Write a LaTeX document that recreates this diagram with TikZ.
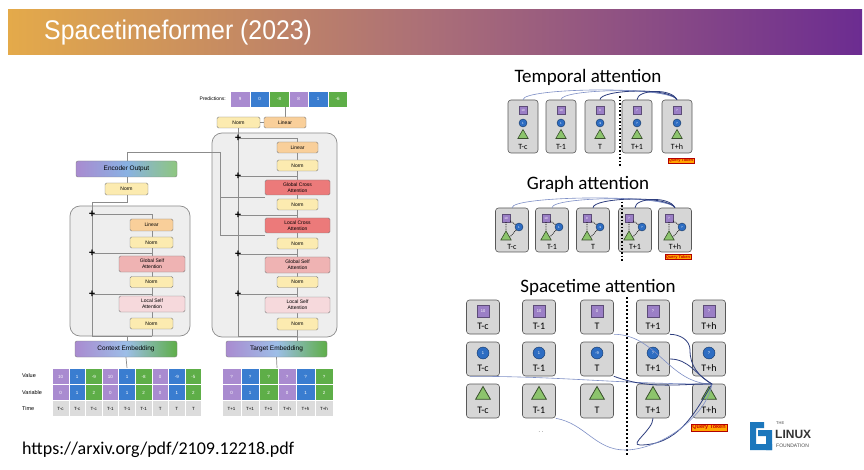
\documentclass[tikz,border=0pt]{standalone}
\usepackage{fontspec}
\setmainfont{Liberation Sans}
\newfontfamily\carlito{Carlito}
\usetikzlibrary{shapes.geometric}
\definecolor{pu}{HTML}{A98BD0}
\definecolor{bl}{HTML}{3A7DD0}
\definecolor{gr}{HTML}{5EAE48}
\definecolor{tg}{HTML}{DCDCDC}
\definecolor{sqc}{HTML}{9B7FC6}
\definecolor{cic}{HTML}{2E6DC2}
\definecolor{trc}{HTML}{8CC46C}
\definecolor{cardc}{HTML}{D6D6D6}
\definecolor{normc}{HTML}{FCEBB0}
\definecolor{linc}{HTML}{F9CF9A}
\definecolor{gca}{HTML}{EC7A7A}
\definecolor{gsa}{HTML}{EFB3B3}
\definecolor{lsa}{HTML}{F6D9DC}
\definecolor{blk}{HTML}{EEEEEE}
\definecolor{lf}{HTML}{1C77BC}
\definecolor{arcd}{HTML}{2E3E7E}
\definecolor{arcl}{HTML}{7E8FC6}
\tikzset{
 x=1pt,y=-1pt,
 cell/.style={minimum width=#1,minimum height=16,inner sep=0,draw=white,line width=0.6pt,font=\fontsize{4.5}{5}\selectfont,text=white},
 box/.style={draw=black!50,rounded corners=1.5,inner sep=0,font=\fontsize{5}{6}\selectfont,align=center},
 blockc/.style={draw=black!45,fill=blk,rounded corners=10,line width=0.7pt},
 wire/.style={draw=black!45,line width=0.7pt},
 plus/.style={font=\bfseries\fontsize{11}{11}\selectfont,inner sep=0},
 card/.style={draw=black!65,fill=cardc,rounded corners=3,line width=0.6pt,inner sep=0},
 sq/.style={fill=sqc,draw=sqc!60!black,minimum size=8,inner sep=0,font=\fontsize{3}{3}\selectfont,text=white},
 ci/.style={circle,fill=cic,draw=cic!50!black,minimum size=8,inner sep=0,font=\fontsize{3}{3}\selectfont,text=white},
 tri/.style={regular polygon,regular polygon sides=3,fill=trc,draw=trc!40!black,minimum size=12,inner sep=0,line width=0.6pt},
 bsq/.style={sq,minimum size=12,font=\fontsize{4}{4}\selectfont},
 bci/.style={ci,minimum size=12,font=\fontsize{4}{4}\selectfont},
 btri/.style={tri,minimum size=17,line width=0.8pt},
 lab/.style={font=\carlito\fontsize{8}{8}\selectfont,inner sep=0},
 qt/.style={fill=orange!70!yellow,draw=red!70!black,inner sep=0.8,font=\bfseries\fontsize{4}{4}\selectfont,text=red!80!black,line width=0.4pt},
 arcA/.style={draw=arcd,line width=0.8pt},
 arcB/.style={draw=arcl,line width=0.6pt},
 title/.style={font=\carlito\fontsize{19}{19}\selectfont,inner sep=0},
 pics/tcard/.style n args={3}{code={
   \node[card,minimum width=30,minimum height=53] (-c) at (0,0) {};
   \node[sq] (-s) at (0,-16.5) {#1};
   \node[ci] (-o) at (0,-3.5) {#2};
   \node[tri] (-t) at (0,9) {};
   \node[lab] (-l) at (0,20.5) {#3};}},
 pics/gcard/.style n args={3}{code={
   \node[card,minimum width=33,minimum height=44] (-c) at (0,0) {};
   \node[sq] (-s) at (-6,-12) {#1};
   \node[ci] (-o) at (7,-3) {#2};
   \node[tri] (-t) at (-6,7) {};
   \node[lab] (-l) at (0,17) {#3};
   \draw[densely dotted,line width=0.8pt] (-s) -- (-o) (-o) -- (-t.east) (-s) -- (-t);}},
 pics/scard/.style n args={3}{code={
   \node[card,minimum width=33,minimum height=34] (-c) at (0,0) {};
   \node[#1] (-g) at (0,-6) {#2};
   \node[lab,font=\carlito\fontsize{10}{10}\selectfont] (-l) at (0,9) {#3};}},
}
\begin{document}
\begin{tikzpicture}
\useasboundingbox (0,0) rectangle (864,470);
\fill[white] (0,0) rectangle (864,470);
% title bar
\shade[left color={rgb,255:red,228;green,170;blue,74},right color={rgb,255:red,108;green,44;blue,145},middle color={rgb,255:red,170;green,110;blue,120}] (8,10) rectangle (862,55);
\node[font=\fontsize{27}{27}\selectfont,inner sep=0,text=white,anchor=west,xscale=0.92] (ttl) at (44,33) {Spacetimeformer (2023)};
\node[anchor=west,inner sep=0,font=\carlito\fontsize{18}{18}\selectfont] (url) at (22,450) {https://arxiv.org/pdf/2109.12218.pdf};

% ===== left architecture =====
\node[anchor=east,inner sep=0,font=\fontsize{5}{5}\selectfont] (predl) at (226,99) {Predictions:};
\foreach \v [count=\i] in {9,0,-8,8,1,-6}{
  \pgfmathtruncatemacro\m{mod(\i-1,3)}
  \ifcase\m\def\cc{pu}\or\def\cc{bl}\or\def\cc{gr}\fi
  \node[cell=19.5,fill=\cc,anchor=west] (p\i) at ({230+(\i-1)*19.5},99) {\v};
}
% blocks
\draw[blockc] (212,133) rectangle (337,337);
\draw[blockc] (70,206) rectangle (190,336);
% decoder wires
\draw[wire] (238,336) -- (238,128);
\draw[wire] (297.5,341) -- (297.5,138) -- (238,138);
\foreach \y in {176,215,254,294}{\draw[wire] (238,\y) -- (297.5,\y);}
\draw[wire] (238,336) -- (297.5,336);
\draw[wire] (285,117) -- (285,107);
% encoder wires
\draw[wire] (92,336) -- (92,202) -- (127,202) -- (127,195);
\draw[wire] (152,336) -- (152,214) -- (92,214);
\foreach \y in {253,294}{\draw[wire] (92,\y) -- (152,\y);}
\draw[wire] (127,341) -- (127,336) (92,336) -- (152,336);
\draw[wire] (127,177) -- (127,183);
% cross connection
\draw[wire] (127,161) -- (127,152) -- (220,152) -- (220,235) -- (265,235);
\draw[wire] (220,197) -- (265,197);
\foreach \y in {138,176,215,254,294}{\node[plus] (dp\y) at (238,\y) {+};}
\foreach \y in {214,253,294}{\node[plus] (ep\y) at (92,\y) {+};}
% decoder boxes
\node[box,fill=normc,minimum width=43,minimum height=11] (dn0) at (238.5,122.5) {Norm};
\node[box,fill=linc,minimum width=42,minimum height=11] (dl0) at (285,122.5) {Linear};
\draw[wire] (dn0) -- (dl0);
\node[box,fill=linc,minimum width=41,minimum height=11] (dl1) at (297.5,147.5) {Linear};
\node[box,fill=normc,minimum width=41,minimum height=11] (dn1) at (297.5,165.5) {Norm};
\node[box,fill=gca,minimum width=65,minimum height=15] (dgc) at (297.5,187.5) {Global Cross\\Attention};
\node[box,fill=normc,minimum width=41,minimum height=11] (dn2) at (297.5,204.5) {Norm};
\node[box,fill=gca,minimum width=65,minimum height=15] (dlc) at (297.5,225.5) {Local Cross\\Attention};
\node[box,fill=normc,minimum width=41,minimum height=11] (dn3) at (297.5,243.5) {Norm};
\node[box,fill=gsa,minimum width=65,minimum height=16] (dgs) at (297.5,265) {Global Self\\Attention};
\node[box,fill=normc,minimum width=41,minimum height=11] (dn4) at (297.5,282) {Norm};
\node[box,fill=lsa,minimum width=65,minimum height=16] (dls) at (297.5,305) {Local Self\\Attention};
\node[box,fill=normc,minimum width=41,minimum height=12] (dn5) at (297.5,324) {Norm};
\node[box,left color=pu,right color=gr,middle color=bl!50,rounded corners=2,minimum width=101,minimum height=16,font=\fontsize{6.5}{7}\selectfont] (temb) at (276.5,349) {Target Embedding};
% encoder boxes
\node[box,left color=pu,right color=gr!70,middle color=bl!60,rounded corners=2,minimum width=101,minimum height=16,font=\fontsize{6.5}{7}\selectfont] (eout) at (126.5,169) {Encoder Output};
\node[box,fill=normc,minimum width=43,minimum height=12] (en0) at (126.5,189) {Norm};
\node[box,fill=linc,minimum width=43,minimum height=12] (el1) at (151.5,225) {Linear};
\node[box,fill=normc,minimum width=43,minimum height=11] (en1) at (151.5,242.5) {Norm};
\node[box,fill=gsa,minimum width=66,minimum height=16] (egs) at (152,264) {Global Self\\Attention};
\node[box,fill=normc,minimum width=43,minimum height=11] (en2) at (151.5,282) {Norm};
\node[box,fill=lsa,minimum width=66,minimum height=16] (els) at (152,304) {Local Self\\Attention};
\node[box,fill=normc,minimum width=43,minimum height=11] (en3) at (151.5,323.5) {Norm};
\node[box,left color=pu,right color=gr,middle color=bl!50,rounded corners=2,minimum width=102,minimum height=16,font=\fontsize{6.5}{7}\selectfont] (cemb) at (126,349) {Context Embedding};
\draw[wire] (cemb.south) -- (127,368);
\draw[wire] (temb.south) -- (277,368);
% tables
\node[anchor=west,inner sep=0,font=\fontsize{5.5}{5}\selectfont] (rv) at (22,376) {Value};
\node[anchor=west,inner sep=0,font=\fontsize{5.5}{5}\selectfont] (rvar) at (22,393) {Variable};
\node[anchor=west,inner sep=0,font=\fontsize{5.5}{5}\selectfont] (rt) at (22,409) {Time};
\foreach \v/\t [count=\i] in {10/T-c,1/T-c,-9/T-c,10/T-1,1/T-1,-8/T-1,0/T,-9/T,-5/T}{
  \pgfmathtruncatemacro\m{mod(\i-1,3)}
  \ifcase\m\def\cc{pu}\or\def\cc{bl}\or\def\cc{gr}\fi
  \node[cell=16.6,fill=\cc,anchor=west] (lv\i) at ({52+(\i-1)*16.6},376.5) {\v};
  \node[cell=16.6,fill=\cc,anchor=west] (lr\i) at ({52+(\i-1)*16.6},392.5) {\m};
  \node[cell=16.6,fill=tg,text=black,anchor=west] (lt\i) at ({52+(\i-1)*16.6},408.5) {\t};
}
\foreach \t [count=\i] in {T+1,T+1,T+1,T+h,T+h,T+h}{
  \pgfmathtruncatemacro\m{mod(\i-1,3)}
  \ifcase\m\def\cc{pu}\or\def\cc{bl}\or\def\cc{gr}\fi
  \node[cell=18.5,fill=\cc,anchor=west] (rv\i) at ({222+(\i-1)*18.5},376.5) {?};
  \node[cell=18.5,fill=\cc,anchor=west] (rr\i) at ({222+(\i-1)*18.5},392.5) {\m};
  \node[cell=18.5,fill=tg,text=black,anchor=west] (rt\i) at ({222+(\i-1)*18.5},408.5) {\t};
}

% ===== temporal attention =====
\node[title] (tat) at (588,77) {Temporal attention};
\foreach \x/\a/\b/\l [count=\i] in {523/10/1/T-c,561/10/1/T-1,600/0/-9/T,637/?/?/T+1,677/?/?/T+h}{
  \pic (tc\i) at (\x,126.5) {tcard={\a}{\b}{\l}};
}
\draw[line width=1.6pt,dotted] (620,96) -- (620,166);
\draw[arcB] (tc5-c.north) .. controls +(-8,-14) and +(0,-12) .. (tc1-c.north);
\draw[arcB] (tc5-c.north) .. controls +(-8,-13) and +(0,-11) .. (tc2-c.north);
\draw[arcA] (tc5-c.north) .. controls +(-8,-13) and +(0,-10) .. (tc3-c.north);
\draw[arcA] (tc5-c.north) .. controls +(-6,-12) and +(0,-10) .. (tc4-c.north);
\node[qt] (q1) at (681,160.5) {Query Token};

% ===== graph attention =====
\node[title] (gat) at (588,184) {Graph attention};
\foreach \x/\a/\b/\l [count=\i] in {512/10/1/T-c,552/10/1/T-1,593/0/-9/T,635/?/?/T+1,675/?/?/T+h}{
  \pic (gc\i) at (\x,230) {gcard={\a}{\b}{\l}};
}
\draw[line width=1.6pt,dotted] (622,198) -- (622,262);
\draw[arcB] (gc5-c.north) .. controls +(-8,-14) and +(0,-12) .. (gc1-c.north);
\draw[arcB] (gc5-c.north) .. controls +(-8,-13) and +(0,-11) .. (gc2-c.north);
\draw[arcA] (gc5-c.north) .. controls +(-8,-13) and +(0,-10) .. (gc3-c.north);
\draw[arcA] (gc5-c.north) .. controls +(-6,-12) and +(0,-10) .. (gc4-c.north);
\node[qt] (q2) at (678,257) {Query Token};

% ===== spacetime attention =====
\node[title] (sat) at (598,287) {Spacetime attention};
\foreach \x/\a/\b/\l [count=\i] in {483/10/1/T-c,539/10/1/T-1,597/0/-9/T,653/?/?/T+1,709/?/?/T+h}{
  \pic (ss\i) at (\x,317) {scard={bsq}{\a}{\l}};
  \pic (sc\i) at (\x,359) {scard={bci}{\b}{\l}};
  \pic (st\i) at (\x,401) {scard={btri}{}{\l}};
}
\draw[line width=2pt,dotted] (627,297) -- (627,456);
\coordinate (h) at (712,384);
\draw[arcB] (sc1-c.south west) ++(4,0) coordinate (a1) to[out=0,in=180] (h);
\draw[arcB] (ss3-c.south east) to[out=0,in=180] (h);
\draw[arcA] (sc3-c.south east) to[out=-20,in=180] (h);
\draw[arcA] (ss4-c.south east) to[out=0,in=90,looseness=1] (690,350) to[out=-90,in=150] (h);
\draw[arcA] (st4-c.south) to[out=-90,in=180] (640,445) to[out=0,in=-120] (h);
\draw[arcB] (st2-c.south east) to[out=-10,in=180] (625,450) to[out=0,in=-100,looseness=0.8] (h);
\draw[arcA] (sc4-c.east) to[out=0,in=150] (h);
\node[inner sep=0,font=\fontsize{5}{5}\selectfont] (dots) at (541,432) {. .};
\node[qt,font=\bfseries\fontsize{5.5}{5.5}\selectfont,inner sep=1.2] (q3) at (709,427.5) {Query Token};

% logo
\fill[lf] (750,422) rectangle (764,428) (750,422) rectangle (756,450) (750,444) rectangle (772,450);
\fill[lf] (758,430) rectangle (772,436) (766,430) rectangle (772,450);
\node[anchor=west,inner sep=0,font=\fontsize{4}{4}\selectfont,text=black!70] (lthe) at (776,423) {THE};
\node[anchor=west,inner sep=0,font=\bfseries\fontsize{12}{12}\selectfont,text=black!80] (llin) at (775,434) {LINUX};
\node[anchor=west,inner sep=0,font=\fontsize{5}{5}\selectfont,text=black!70] (lfnd) at (776,446) {FOUNDATION};
\end{tikzpicture}
\end{document}
